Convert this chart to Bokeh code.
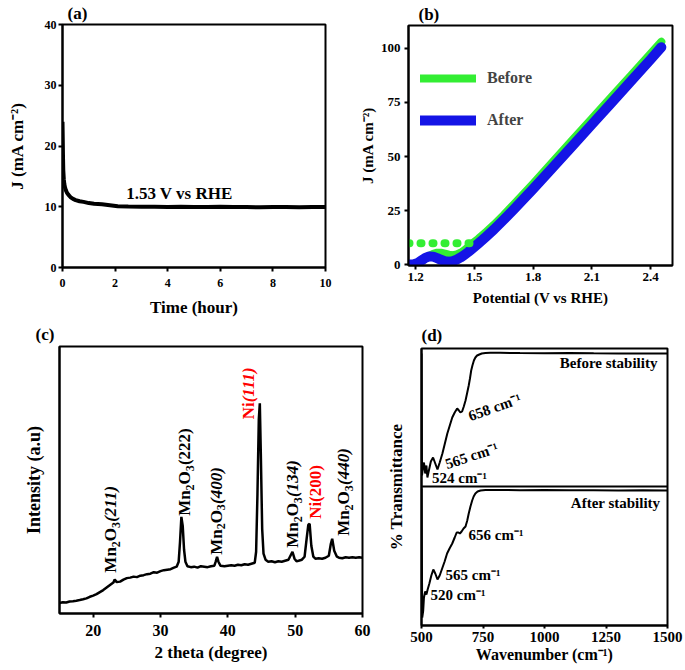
from bokeh.plotting import figure
from bokeh.models import FixedTicker, Span, Legend, LegendItem
from bokeh.layouts import row, column
from bokeh.embed import file_html
from bokeh.resources import INLINE
from bokeh.core.properties import value

SERIF = "Liberation Serif"

# ---------------- (a) chronoamperometry ----------------
time_h = [0, 0.01, 0.02, 0.03, 0.05, 0.07, 0.1, 0.13, 0.17, 0.22, 0.3, 0.4, 0.5, 0.65, 0.8,
          1.0, 1.2, 1.5, 1.8, 2.1, 2.5, 3.0, 3.5, 4.0, 4.5, 5.0, 5.5, 6.0, 6.5, 7.0, 7.5,
          8.0, 8.5, 9.0, 9.5, 10.0]
current_j = [24.0, 21.0, 18.0, 16.0, 14.5, 13.7, 13.1, 12.7, 12.3, 12.0, 11.6, 11.3, 11.1, 10.9, 10.8,
             10.6, 10.5, 10.4, 10.25, 10.1, 10.05, 10.0, 10.0, 9.95, 10.0, 9.95, 9.95, 10.0, 9.95, 9.95, 9.9,
             9.95, 9.95, 9.9, 9.95, 9.95]

# ---------------- (b) LSV before / after ----------------
pot_before = [1.165, 1.19, 1.21, 1.23, 1.25, 1.27, 1.29, 1.31, 1.33, 1.35, 1.37, 1.39, 1.41, 1.43, 1.45,
              1.47, 1.49, 1.52, 1.56, 1.60, 1.65, 1.70, 1.80, 1.90, 2.00, 2.10, 2.20, 2.30, 2.40, 2.455]
j_before = [0.3, 0.4, 0.8, 1.8, 3.0, 4.2, 5.1, 5.6, 5.6, 5.2, 4.7, 4.5, 4.8, 5.6, 6.8,
            8.3, 9.9, 12.0, 15.2, 18.5, 23.0, 27.8, 37.5, 47.5, 57.5, 67.5, 77.5, 87.5, 97.5, 103.0]
pot_after = [1.165, 1.19, 1.21, 1.23, 1.25, 1.27, 1.29, 1.31, 1.33, 1.35, 1.37, 1.39, 1.41, 1.43, 1.45,
             1.47, 1.49, 1.52, 1.56, 1.60, 1.65, 1.70, 1.80, 1.90, 2.00, 2.10, 2.20, 2.30, 2.40, 2.455]
j_after = [0.2, 0.3, 0.8, 2.0, 3.2, 3.9, 3.8, 3.1, 2.3, 1.7, 1.5, 1.7, 2.4, 3.4, 4.6,
           6.0, 7.5, 9.8, 13.0, 16.3, 20.8, 25.4, 35.0, 44.9, 54.8, 64.8, 74.8, 84.8, 94.8, 100.5]
ref_pot = [1.164, 1.478]
ref_j = [10, 10]

# ---------------- (c) XRD ----------------
two_theta = [15.0, 15.5, 16.0, 16.5, 17.0, 17.5, 18.0, 18.5, 19.0, 19.5, 20.0, 20.5, 21.0, 21.5, 22.0,
             22.5, 23.0, 23.2, 23.5, 24.0, 24.5, 25.0, 25.5, 26.0, 26.5, 27.0, 27.5, 28.0, 28.5, 29.0,
             29.5, 30.0, 30.5, 31.0, 31.5, 32.0, 32.4, 32.7, 32.9, 33.1, 33.3, 33.5, 33.7, 34.0, 34.5,
             35.0, 35.5, 36.0, 36.5, 37.0, 37.5, 38.0, 38.2, 38.4, 38.6, 38.9, 39.5, 40.0, 40.5, 41.0,
             41.5, 42.0, 42.5, 43.0, 43.5, 44.0, 44.2, 44.4, 44.6, 44.75, 44.9, 45.1, 45.3, 45.6, 46.0,
             46.5, 47.0, 47.5, 48.0, 48.5, 49.0, 49.3, 49.6, 49.9, 50.2, 50.5, 51.0, 51.4, 51.7, 51.95,
             52.15, 52.4, 52.7, 53.0, 53.5, 54.0, 54.5, 55.0, 55.3, 55.5, 55.8, 56.2, 56.5, 57.0, 57.5,
             58.0, 58.5, 59.0, 59.5, 60.0]
intensity = [10.5, 11.2, 11.0, 12.0, 12.3, 12.8, 13.5, 14.3, 15.2, 16.8, 18.0, 19.5, 21.5, 23.5, 26.0,
             28.5, 31.0, 34.0, 31.5, 32.0, 34.0, 35.5, 36.0, 37.0, 36.5, 38.0, 38.5, 39.5, 40.0, 41.5,
             41.0, 42.5, 43.5, 44.0, 44.5, 46.0, 47.0, 52.0, 72.0, 97.0, 88.0, 64.0, 52.0, 47.5, 46.5,
             47.0, 46.0, 47.5, 47.0, 46.5, 47.5, 48.0, 52.0, 57.0, 52.0, 48.0, 47.5, 48.0, 48.5, 48.0,
             49.0, 48.5, 49.5, 49.0, 50.0, 51.0, 62.0, 120.0, 195.0, 211.0, 160.0, 85.0, 60.0, 54.0, 52.0,
             52.5, 51.5, 52.5, 52.0, 53.0, 54.0, 58.0, 62.0, 55.0, 52.5, 53.0, 54.0, 57.0, 75.0, 89.0,
             90.0, 68.0, 57.0, 55.0, 55.5, 55.0, 56.0, 58.0, 70.0, 75.0, 63.0, 57.0, 56.0, 55.5, 56.5,
             56.0, 56.5, 56.0, 56.5, 56.0]
xrd_phase = ["Mn2O3", "Mn2O3", "Mn2O3", "Ni", "Mn2O3", "Ni", "Mn2O3"]
xrd_hkl = ["(211)", "(222)", "(400)", "(111)", "(134)", "(200)", "(440)"]
xrd_color = ["black", "black", "black", "red", "black", "red", "black"]
xrd_hkl_style = ["bold italic", "bold", "bold italic", "bold italic", "bold italic", "bold", "bold italic"]

# ---------------- (d) FTIR ----------------
wn_before = [500, 502, 506, 510, 515, 520, 524, 530, 538, 547, 556, 565, 574, 585, 595, 605, 615, 625,
             635, 645, 652, 658, 665, 672, 679, 686, 692, 697, 702, 707, 713, 719, 726, 735, 745, 760,
             780, 820, 900, 1000, 1100, 1200, 1300, 1400, 1500]
tr_before = [272, 150, 158, 163, 152, 160, 148, 155, 164, 168, 162, 156, 163, 172, 182, 192, 200, 208,
             213, 217, 215, 213, 214, 219, 225, 233, 240, 247, 255, 260, 265, 268, 270, 271, 272, 272.5,
             272.7, 272.7, 272.5, 272.3, 272.4, 272.2, 272.1, 272.0, 272.0]
wn_after = [500, 503, 507, 510, 515, 520, 525, 532, 540, 548, 556, 565, 574, 584, 594, 604, 614, 625,
            635, 643, 650, 656, 663, 671, 679, 686, 692, 699, 706, 712, 719, 728, 740, 760, 800, 900,
            1000, 1100, 1200, 1300, 1400, 1500]
tr_after = [137, 8, 15, 28, 34, 31, 36, 42, 50, 56, 52, 46, 50, 57, 64, 72, 77, 82,
            88, 93, 93, 92, 94, 97, 99, 105, 112, 119, 125, 129, 132, 134, 135, 135.5, 135.5, 135.3,
            135.4, 135.2, 135.3, 135.1, 135.2, 135.1]
ftir_labels_before = ["658 cm\u207b\u00b9", "565 cm\u207b\u00b9", "524 cm\u207b\u00b9"]
ftir_labels_after = ["656 cm\u207b\u00b9", "565 cm\u207b\u00b9", "520 cm\u207b\u00b9"]

panel_tags = ["(a)", "(b)", "(c)", "(d)"]


def style(p, tick_size, label_size, xticks, yticks, x_std=6, y_std=2, xl_std=8, yl_std=12, tick_out=4):
    p.outline_line_color = "black"
    p.outline_line_width = 2
    p.outline_line_alpha = 1
    p.xgrid.visible = False
    p.ygrid.visible = False
    p.background_fill_color = "white"
    p.border_fill_color = "white"
    for ax in p.axis:
        ax.axis_line_width = 2
        ax.axis_line_color = "black"
        ax.major_tick_line_width = 2
        ax.major_tick_in = 0
        ax.major_tick_out = tick_out
        ax.minor_tick_line_color = None
        ax.major_label_text_font = SERIF
        ax.major_label_text_font_style = "bold"
        ax.major_label_text_font_size = tick_size
        ax.major_label_text_color = "black"
        ax.axis_label_text_font = SERIF
        ax.axis_label_text_font_style = "bold"
        ax.axis_label_text_font_size = label_size
        ax.axis_label_text_color = "black"
    p.xaxis.ticker = FixedTicker(ticks=xticks)
    p.yaxis.ticker = FixedTicker(ticks=yticks)
    p.xaxis.major_label_standoff = x_std
    p.yaxis.major_label_standoff = y_std
    p.xaxis.axis_label_standoff = xl_std
    p.yaxis.axis_label_standoff = yl_std
    if not yticks:
        p.yaxis.major_tick_line_color = None


def set_title(p, text, offset, standoff):
    p.title.text = text
    p.title.align = "left"
    p.title.offset = offset
    p.title.standoff = standoff
    p.title.text_font = SERIF
    p.title.text_font_style = "bold"
    p.title.text_font_size = "17px"
    p.title.text_color = "black"


def txt(p, x, y, s, size, style="bold", align="left", baseline="alphabetic", angle=0.0, color="black"):
    p.text(x=[x], y=[y], text=[s], angle=angle, text_font=value(SERIF), text_font_style=style,
           text_font_size=size, text_align=align, text_baseline=baseline, text_color=color)


# ---- (a)
pa = figure(width=340, height=320, x_range=(0, 10), y_range=(0, 40), output_backend="svg",
            toolbar_location=None, min_border_left=62, min_border_right=15,
            min_border_top=24, min_border_bottom=53)
style(pa, "12px", "17px", [0, 2, 4, 6, 8, 10], [0, 10, 20, 30, 40], x_std=7, y_std=2, xl_std=8, yl_std=15)
pa.xaxis.axis_label = "Time (hour)"
pa.yaxis.axis_label = "J (mA cm\u207b\u00b2)"
set_title(pa, panel_tags[0], 5, 3)
pa.line(time_h, current_j, line_color="black", line_width=4)
txt(pa, 4.45, 12.2, "1.53 V vs RHE", "17px", align="center")

# ---- (b)
pb = figure(width=345, height=320, x_range=(1.164, 2.512), y_range=(-0.3, 110.5), output_backend="svg",
            toolbar_location=None, min_border_left=68, min_border_right=13,
            min_border_top=24, min_border_bottom=55)
style(pb, "13px", "15px", [1.2, 1.5, 1.8, 2.1, 2.4], [0, 25, 50, 75, 100], x_std=3, y_std=4, xl_std=6, yl_std=2)
pb.xaxis.axis_label = "Potential (V vs RHE)"
pb.yaxis.axis_label = "J (mA cm\u207b\u00b2)"
set_title(pb, panel_tags[1], 10, 4)
GREEN = "#33ee33"
BLUE = "#1414e6"
rg = pb.line(pot_before, j_before, line_color=GREEN, line_width=8, line_cap="round", line_join="round")
rb = pb.line(pot_after, j_after, line_color=BLUE, line_width=10, line_cap="round", line_join="round")
pb.line(ref_pot, ref_j, line_color=GREEN, line_width=8, line_cap="round", line_dash="1 11")
leg = Legend(items=[LegendItem(label="Before", renderers=[rg]), LegendItem(label="After", renderers=[rb])],
             location=(12, 135), glyph_width=56, glyph_height=20, label_height=20, spacing=22,
             padding=0, margin=0, label_standoff=11, border_line_color=None, background_fill_alpha=0,
             label_text_font=SERIF, label_text_font_style="bold", label_text_font_size="16px")
pb.add_layout(leg)

# ---- (c)
pc = figure(width=380, height=350, x_range=(15, 60), y_range=(0, 268), output_backend="svg",
            toolbar_location=None, min_border_left=59, min_border_right=18,
            min_border_top=25, min_border_bottom=57)
style(pc, "16px", "17px", [20, 30, 40, 50, 60], [], x_std=7, y_std=0, xl_std=4, yl_std=16)
pc.xaxis.axis_label = "2 theta (degree)"
pc.yaxis.axis_label = "Intensity (a.u)"
pc.yaxis.axis_label_text_font_size = "18px"
set_title(pc, panel_tags[2], -24, 5)
pc.line(two_theta, intensity, line_color="black", line_width=2.5)

lab_x = [22.6, 33.6, 38.3, 43.1, 49.6, 53.0, 57.2]
lab_bottom = [41, 98, 59, 195, 66, 95, 78]
UP = 1.5708
SUBX = 0.75
for i in range(len(xrd_hkl)):
    x0, b, c = lab_x[i], lab_bottom[i], xrd_color[i]
    if xrd_phase[i] == "Mn2O3":
        txt(pc, x0, b, "Mn", "17px", baseline="middle", angle=UP, color=c)
        txt(pc, x0 + SUBX, b + 25.5, "2", "12px", baseline="middle", angle=UP, color=c)
        txt(pc, x0, b + 31.5, "O", "17px", baseline="middle", angle=UP, color=c)
        txt(pc, x0 + SUBX, b + 44.7, "3", "12px", baseline="middle", angle=UP, color=c)
        hb = b + 51
    else:
        txt(pc, x0, b, xrd_phase[i], "17px", baseline="middle", angle=UP, color=c)
        hb = b + 17
    txt(pc, x0, hb, xrd_hkl[i], "17px", style=xrd_hkl_style[i], baseline="middle", angle=UP, color=c)

# ---- (d)
pd_ = figure(width=305, height=350, x_range=(500, 1500), y_range=(0, 277), output_backend="svg",
             toolbar_location=None, min_border_left=41, min_border_right=18,
             min_border_top=28, min_border_bottom=45)
style(pd_, "15px", "16px", [500, 750, 1000, 1250, 1500], [], x_std=3, y_std=0, xl_std=1, yl_std=16, tick_out=3)
pd_.xaxis.axis_label = "Wavenumber (cm\u207b\u00b9)"
pd_.yaxis.axis_label = "% Transmittance"
pd_.yaxis.axis_label_text_font_size = "17px"
set_title(pd_, panel_tags[3], 0, 7)
pd_.add_layout(Span(location=139, dimension="width", line_color="black", line_width=2))
pd_.line(wn_before, tr_before, line_color="black", line_width=2)
pd_.line(wn_after, tr_after, line_color="black", line_width=2)
txt(pd_, 1459, 263, "Before stability", "15px", align="right")
txt(pd_, 1471, 123, "After stability", "15px", align="right")
txt(pd_, 692, 209, ftir_labels_before[0], "15px", angle=0.34)
txt(pd_, 598, 161, ftir_labels_before[1], "15px", angle=0.32)
txt(pd_, 543, 148, ftir_labels_before[2], "15px")
txt(pd_, 691, 91, ftir_labels_after[0], "15px")
txt(pd_, 598, 51, ftir_labels_after[1], "15px")
txt(pd_, 537, 31, ftir_labels_after[2], "15px")

# each figure wrapped on its own so that Bokeh does not align the frames across a row
layout = column(row(column(pa), column(pb)), row(column(pc), column(pd_)))
open("out.html", "w").write(file_html(layout, INLINE))
